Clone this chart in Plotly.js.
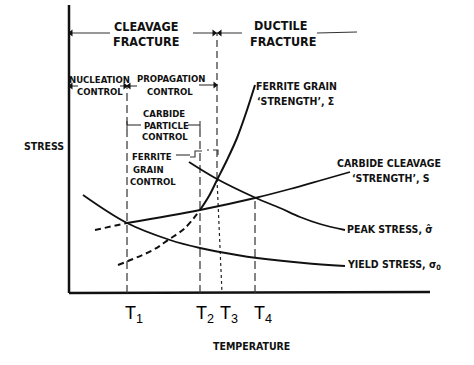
<!DOCTYPE html>
<html>
<head>
<meta charset="utf-8">
<script src="https://cdn.plot.ly/plotly-3.0.1.min.js"></script>
<style>html,body{margin:0;padding:0;background:#fff;}#chart{width:474px;height:365px;}</style>
</head>
<body>
<div id="chart"></div>
<script>
// Schematic units: temperature (x) and stress (y), origin at the axes corner
const yieldT = [14, 58, 101, 131, 168, 188, 235, 276];
const yieldS = [98, 70, 53, 45, 38, 35, 30, 27];
const peakT = [120, 148, 187, 211, 231, 251, 276];
const peakS = [131, 114, 95, 85, 76, 69, 63];
const carbideT = [58, 131, 186, 221, 253, 281];
const carbideS = [70, 83, 95, 104, 113, 121];
const carbideLowT = [26, 58];
const carbideLowS = [63, 70];
const ferriteT = [131, 140, 148, 158, 168, 177, 186];
const ferriteS = [83, 97, 113, 133, 155, 180, 208];
const ferriteLowT = [49, 84, 99, 116, 131];
const ferriteLowS = [28, 43, 53, 65, 83];
const transitionT = [58, 131, 148, 186];          // T1, T2, T3, T4
const transitionTop = [207, 168, 260, 95];
const transitionLabels = ['T<sub>1</sub>', 'T<sub>2</sub>', 'T<sub>3</sub>', 'T<sub>4</sub>'];
const T3lowT = [148, 153];
const T3lowS = [114, 0];
const curveLabels = ['PEAK STRESS, σ̂', 'YIELD STRESS, σ<sub>0</sub>'];

const INK = '#111';
const LBL = "'DejaVu Sans Condensed','Liberation Sans Narrow','DejaVu Sans',sans-serif";

const traces = [];
function line(x, y, opts) {
  traces.push(Object.assign({
    type: 'scatter', mode: 'lines', x: x, y: y, hoverinfo: 'skip', showlegend: false,
    line: {color: INK, width: 1.8}
  }, opts || {}));
}
// axes
line([0, 0], [0, 288], {line: {color: INK, width: 2.5}});
line([0, 361], [0, 1], {line: {color: INK, width: 2.5}});
// vertical transition lines
[0, 1, 3].forEach(i => line([transitionT[i], transitionT[i]], [0, transitionTop[i]],
  {line: {color: '#333', width: 1.2, dash: '8px,4px'}}));
line([transitionT[2], transitionT[2]], [peakS[1], transitionTop[2]], {line: {color: '#333', width: 1.2, dash: '7px,4px'}});
line(T3lowT, T3lowS, {line: {color: '#222', width: 1.2, dash: '3px,3px'}});
// curves
const spl = (w, d) => ({color: INK, width: w, shape: 'spline', smoothing: 1, dash: d || 'solid'});
line(yieldT, yieldS, {line: spl(1.8)});
line(peakT, peakS, {line: spl(1.8)});
line(carbideT, carbideS, {line: spl(1.8)});
line(carbideLowT, carbideLowS, {line: spl(2, '6px,4px')});
line(ferriteT, ferriteS, {line: spl(2)});
line(ferriteLowT, ferriteLowS, {line: spl(2, '6px,4px')});
// region bracket lines
const thin = {line: {color: '#333', width: 1.1}};
line([0, 41], [260, 260], thin);
line([124, 173], [260, 260], thin);
line([248, 288], [260, 261], thin);
line([0, 9], [207, 207], thin);
line([51, 68], [207, 207], thin);
line([130, 148], [208, 208], thin);
line([58, 72], [168, 168], thin);
line([58, 58], [164, 172], thin);
line([119, 131], [168, 168], thin);
line([131, 131], [164, 172], thin);
line([107, 121], [138, 138], thin);
line([121, 126, 126, 133], [136, 136, 142, 142], thin);
line([138, 140], [143, 143], thin);
line([144, 149, 149], [143, 143, 138], thin);
// arrowheads
traces.push({type: 'scatter', mode: 'markers', hoverinfo: 'skip', showlegend: false,
  x: [2, 145, 151, 2, 56, 60, 146],
  y: [260, 260, 260, 207, 207, 207, 208],
  marker: {color: INK, size: 6,
    symbol: ['triangle-left', 'triangle-right', 'triangle-left', 'triangle-left', 'triangle-right', 'triangle-left', 'triangle-right']}});

const ann = [];
function txt(px, py, t, size, anchor, fam) {
  ann.push({x: px - 69, y: 293 - py, xref: 'x', yref: 'y', text: t, showarrow: false,
    xanchor: anchor || 'center', yanchor: 'middle',
    font: {family: fam || LBL, size: size, color: INK, weight: 600}});
}

txt(146, 26, 'CLEAVAGE', 12.5);
txt(146, 41, 'FRACTURE', 12.5);
txt(280, 25, 'DUCTILE', 12.5);
txt(283, 41, 'FRACTURE', 12.5);
txt(99, 79, 'NUCLEATION', 9.5);
txt(100, 91, 'CONTROL', 9.5);
txt(171, 78, 'PROPAGATION', 9.5);
txt(170, 91, 'CONTROL', 9.5);
txt(164, 113, 'CARBIDE', 9.5);
txt(166, 125, 'PARTICLE', 9.5);
txt(165, 136, 'CONTROL', 9.5);
txt(152, 156, 'FERRITE', 9.5);
txt(148, 169, 'GRAIN', 9.5);
txt(153, 181, 'CONTROL', 9.5);
txt(44, 146, 'STRESS', 10.5);
txt(251, 346, 'TEMPERATURE', 10.5);
txt(254, 86, 'FERRITE GRAIN', 10.5, 'left');
txt(255, 101, '‘STRENGTH’, Σ', 10.5, 'left');
txt(335, 163, 'CARBIDE CLEAVAGE', 10.5, 'left');
txt(350, 178, '‘STRENGTH’, S', 10.5, 'left');
txt(345, 229, curveLabels[0], 10.5, 'left');
txt(345, 265, curveLabels[1], 10.5, 'left');
transitionT.forEach((t, i) => {
  const lx = [123, 194, 218, 252][i];
  ann.push({x: lx - 69, y: -21, xref: 'x', yref: 'y', text: transitionLabels[i], showarrow: false,
    xanchor: 'left', yanchor: 'middle', font: {family: "'Liberation Sans',Arial,sans-serif", size: 18, color: '#000'}});
});

const layout = {
  width: 474, height: 365,
  margin: {l: 0, r: 0, t: 0, b: 0},
  paper_bgcolor: '#fff', plot_bgcolor: '#fff',
  xaxis: {range: [-69, 405], visible: false, fixedrange: true},
  yaxis: {range: [-72, 293], visible: false, fixedrange: true},
  annotations: ann, showlegend: false
};
Plotly.newPlot('chart', traces, layout, {staticPlot: true, displayModeBar: false});
</script>
</body>
</html>
